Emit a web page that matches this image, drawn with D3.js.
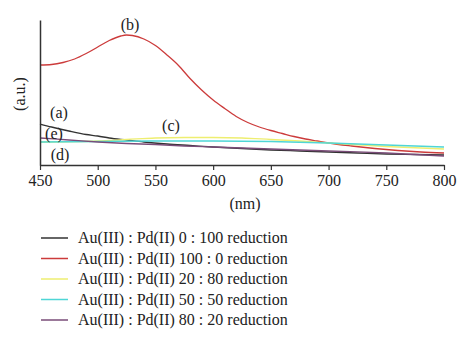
<!DOCTYPE html>
<html><head><meta charset="utf-8">
<script src="https://cdn.jsdelivr.net/npm/d3@7"></script>
<style>body{margin:0;background:#fff}svg{display:block}svg text{font-family:"Liberation Serif","Times New Roman","DejaVu Serif",serif}</style>
</head><body>
<svg id="c" width="474" height="347"></svg>
<script>
const xTicks = [450,500,550,600,650,700,750,800];
const legendLabels = [
  "Au(III) : Pd(II) 0 : 100 reduction",
  "Au(III) : Pd(II) 100 : 0 reduction",
  "Au(III) : Pd(II) 20 : 80 reduction",
  "Au(III) : Pd(II) 50 : 50 reduction",
  "Au(III) : Pd(II) 80 : 20 reduction"
];
const seriesColors = ["#333333","#cc3b3b","#eeee70","#4fd6d6","#7a4c78"];
const curveTags = ["(a)","(b)","(c)","(d)","(e)"];

const blackX = [450,460,475,490,500,510,525,540,560,580,600,625,650,675,700,725,750,775,800];
const blackY = [0.41,0.38,0.34,0.305,0.29,0.27,0.25,0.23,0.21,0.195,0.18,0.165,0.15,0.14,0.13,0.12,0.11,0.105,0.10];
const redX = [450,460,470,480,490,500,510,520,525,530,540,550,560,570,580,590,600,610,620,630,640,650,660,670,680,690,700,720,740,760,780,800];
const redY = [1.00,1.005,1.025,1.06,1.115,1.18,1.245,1.29,1.30,1.295,1.26,1.195,1.10,0.995,0.865,0.75,0.65,0.565,0.485,0.425,0.38,0.345,0.315,0.285,0.26,0.24,0.22,0.19,0.165,0.145,0.13,0.12];
const yellowX = [450,500,525,550,575,600,625,650,675,700,750,800];
const yellowY = [0.23,0.24,0.255,0.27,0.275,0.275,0.27,0.255,0.24,0.22,0.185,0.16];
const cyanX = [450,500,550,600,650,700,750,800];
const cyanY = [0.23,0.235,0.24,0.24,0.235,0.22,0.20,0.18];
const purpleX = [450,475,500,525,550,575,600,650,700,750,800];
const purpleY = [0.27,0.25,0.23,0.215,0.205,0.19,0.18,0.16,0.14,0.12,0.09];

const series = [
  {x: blackX, y: blackY},
  {x: redX, y: redY},
  {x: yellowX, y: yellowY},
  {x: cyanX, y: cyanY},
  {x: purpleX, y: purpleY}
];

const svg = d3.select("#c");
const x = d3.scaleLinear().domain([450,800]).range([40,444]);
const y = d3.scaleLinear().domain([0,1.45]).range([165,20]);

const line = d3.line().x(d=>x(d[0])).y(d=>y(d[1])).curve(d3.curveMonotoneX);
[0,1,2,3,4].forEach(i=>{
  const s = series[i];
  const pts = s.x.map((v,k)=>[v,s.y[k]]);
  svg.append("path").attr("d", line(pts)).attr("fill","none")
    .attr("stroke", seriesColors[i]).attr("stroke-width", 1.3);
});

const xAxis = svg.append("g").attr("transform","translate(0,165)")
  .call(d3.axisBottom(x).tickValues(xTicks).tickSize(5).tickSizeOuter(0).tickPadding(5));
xAxis.attr("font-family",null);
xAxis.select(".domain").attr("stroke","#333").attr("stroke-width",1.5);
xAxis.selectAll(".tick line").attr("stroke","#333").attr("stroke-width",1.2);
xAxis.selectAll("text").attr("font-size",16).attr("fill","#222");

const yAxis = svg.append("g").attr("transform","translate(40,0)")
  .call(d3.axisLeft(y).tickValues([]).tickSizeOuter(0));
yAxis.select(".domain").attr("stroke","#333").attr("stroke-width",1.5);

svg.append("text").attr("x",245).attr("y",209).attr("text-anchor","middle")
  .attr("font-size",16).attr("fill","#222").text("(nm)");
svg.append("text").attr("transform","translate(25,94) rotate(-90)").attr("text-anchor","middle")
  .attr("font-size",16).attr("fill","#222").text("(a.u.)");

const tagPos = [[59,118],[130,30],[171,131],[60,160],[54,139]];
curveTags.forEach((t,i)=>{
  svg.append("text").attr("x",tagPos[i][0]).attr("y",tagPos[i][1]).attr("text-anchor","middle")
    .attr("font-size",16).attr("fill","#222").text(t);
});

legendLabels.forEach((t,i)=>{
  const yy = 238 + i*20.5;
  svg.append("line").attr("x1",41).attr("x2",68).attr("y1",yy).attr("y2",yy)
    .attr("stroke",seriesColors[i]).attr("stroke-width",1.5);
  svg.append("text").attr("x",78).attr("y",yy+5)
    .attr("font-size",16).attr("fill","#222").text(t);
});
</script>
</body></html>
